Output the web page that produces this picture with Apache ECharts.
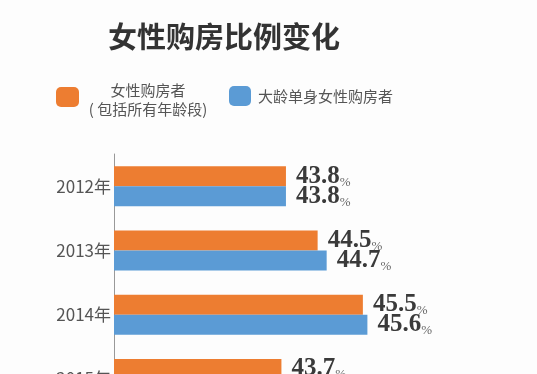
<!DOCTYPE html>
<html>
<head>
<meta charset="utf-8">
<script src="https://cdn.jsdelivr.net/npm/echarts@6/dist/echarts.min.js"></script>
<style>
html,body{margin:0;padding:0;background:#fdfdfd;}
#chart{width:537px;height:374px;}
</style>
</head>
<body>
<div id="chart"></div>
<script>
var categories = ['2012年', '2013年', '2014年', '2015年'];
var allWomen = [43.8, 44.5, 45.5, 43.7];
var singleWomen = [43.8, 44.7, 45.6, null];
var seriesNames = ['女性购房者', '大龄单身女性购房者'];
var legendNote = '( 包括所有年龄段)';

var chart = echarts.init(document.getElementById('chart'));
var labelCfg = {
  show: true,
  position: 'right',
  distance: 10,
  formatter: function (p) { return '{v|' + p.value.toFixed(1) + '}{p|%}'; },
  rich: {
    v: { fontFamily: 'Liberation Serif', fontWeight: 'bold', fontSize: 25, color: '#3a3a3a' },
    p: { fontFamily: 'Liberation Serif', fontSize: 13, color: '#666', verticalAlign: 'bottom' }
  }
};
chart.setOption({
  backgroundColor: '#fdfdfd',
  animation: false,
  title: {
    text: '女性购房比例变化',
    left: 103, top: 17,
    textStyle: { fontFamily: 'Noto Sans CJK SC', fontWeight: 'bold', fontSize: 29, color: '#333' }
  },
  legend: [{
    data: [seriesNames[0]],
    left: 56, top: 77, padding: 0,
    itemWidth: 23, itemHeight: 20,
    formatter: '{s| }\n{a|{name}}\n{a|' + legendNote + '}',
    textStyle: {
      rich: {
        s: { fontSize: 2, lineHeight: 5 },
        a: { fontFamily: 'Noto Sans CJK SC', fontSize: 15, color: '#555', lineHeight: 19, width: 128, align: 'center' }
      }
    }
  }, {
    data: [seriesNames[1]],
    left: 229, top: 86, padding: 0,
    itemWidth: 22, itemHeight: 20,
    textStyle: { fontFamily: 'Noto Sans CJK SC', fontSize: 15, color: '#555', padding: [0, 0, 0, 2] }
  }],
  grid: { left: 114, top: 154, width: 362, height: 257, outerBoundsMode: 'none', containLabel: false },
  xAxis: {
    type: 'value', min: 40, max: 48, show: false
  },
  yAxis: {
    type: 'category', data: categories, inverse: true,
    axisLine: { show: true, lineStyle: { color: '#999', width: 1 } },
    axisTick: { show: false },
    axisLabel: { fontFamily: 'Noto Sans CJK SC', fontSize: 17, color: '#555', margin: 3 },
    splitLine: { show: false }
  },
  series: [{
    name: seriesNames[0], type: 'bar', data: allWomen,
    barWidth: 20, barGap: '0%',
    itemStyle: { color: '#ED7D31' },
    label: labelCfg
  }, {
    name: seriesNames[1], type: 'bar', data: singleWomen,
    barWidth: 20, barGap: '0%',
    itemStyle: { color: '#5B9BD5' },
    label: labelCfg
  }]
});
</script>
</body>
</html>
